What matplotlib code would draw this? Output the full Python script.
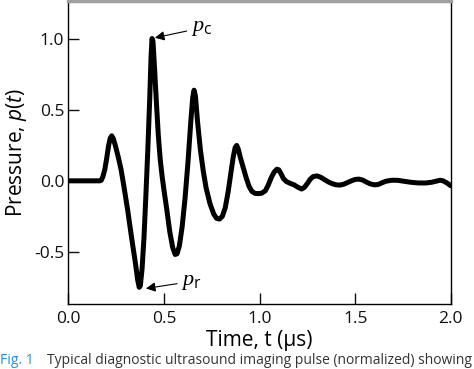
import numpy as np
import matplotlib
matplotlib.use("Agg")
import matplotlib.pyplot as plt

# pulse (time in us, normalised pressure)
t = [0.0, 0.10, 0.165, 0.172, 0.18, 0.19, 0.20, 0.21, 0.218, 0.226, 0.234,
     0.245, 0.26, 0.275, 0.29, 0.31, 0.33, 0.35, 0.362, 0.37, 0.376, 0.385,
     0.395, 0.405, 0.415, 0.425, 0.432, 0.437, 0.442, 0.45, 0.46, 0.47, 0.48,
     0.49, 0.50, 0.515, 0.53, 0.545, 0.558, 0.568, 0.58, 0.595, 0.61, 0.625,
     0.64, 0.65, 0.657, 0.664, 0.675, 0.69, 0.705, 0.72, 0.74, 0.76, 0.775,
     0.79, 0.805, 0.82, 0.835, 0.85, 0.862, 0.872, 0.88, 0.888, 0.90, 0.915,
     0.93, 0.945, 0.96, 0.975, 0.99, 1.01, 1.03, 1.045, 1.06, 1.075, 1.09,
     1.10, 1.112, 1.125, 1.14, 1.16, 1.18, 1.20, 1.22, 1.235, 1.25, 1.265,
     1.28, 1.30, 1.32, 1.34, 1.36, 1.38, 1.40, 1.42, 1.44, 1.46, 1.48, 1.50,
     1.52, 1.54, 1.56, 1.58, 1.60, 1.62, 1.64, 1.66, 1.69, 1.72, 1.75, 1.79,
     1.83, 1.87, 1.90, 1.925, 1.944, 1.96, 1.98, 2.0]
p = [0.0, 0.0, 0.0, 0.005, 0.03, 0.08, 0.16, 0.25, 0.30, 0.318, 0.30,
     0.25, 0.17, 0.08, -0.04, -0.21, -0.40, -0.58, -0.70, -0.752, -0.74, -0.62,
     -0.40, -0.10, 0.22, 0.58, 0.88, 1.005, 0.985, 0.80, 0.55, 0.32, 0.15,
     0.03, -0.07, -0.21, -0.36, -0.47, -0.52, -0.515, -0.46, -0.32, -0.12, 0.13,
     0.42, 0.59, 0.64, 0.60, 0.42, 0.22, 0.07, -0.05, -0.16, -0.235, -0.265,
     -0.27, -0.25, -0.19, -0.08, 0.06, 0.17, 0.235, 0.25, 0.225, 0.16, 0.09,
     0.02, -0.04, -0.075, -0.088, -0.09, -0.088, -0.07, -0.03, 0.02, 0.06, 0.082,
     0.078, 0.05, 0.015, -0.005, -0.018, -0.028, -0.045, -0.058, -0.045, -0.018, 0.012,
     0.03, 0.035, 0.025, 0.008, -0.008, -0.02, -0.028, -0.03, -0.024, -0.012, 0.0, 0.01,
     0.012, 0.005, -0.01, -0.022, -0.028, -0.026, -0.014, -0.003, 0.004, 0.004, -0.002, -0.01,
     -0.015, -0.015, -0.01, -0.002, 0.004, 0.0, -0.015, -0.035]

xticks = [0.0, 0.5, 1.0, 1.5, 2.0]
yticks = [-0.5, 0.0, 0.5, 1.0]

plt.rcParams['font.family'] = ['Open Sans', 'DejaVu Sans']
plt.rcParams['mathtext.fontset'] = 'custom'
plt.rcParams['mathtext.rm'] = 'Open Sans'
plt.rcParams['mathtext.it'] = 'Open Sans:italic'
plt.rcParams['mathtext.sf'] = 'Open Sans'
plt.rcParams['mathtext.tt'] = 'Liberation Serif:italic'

fig = plt.figure(figsize=(4.74, 3.69), dpi=100)
ax = fig.add_axes([0.1445, 0.176, 0.8065, 0.821])

ax.plot(t, p, color="black", linewidth=3.6, solid_joinstyle='round',
        solid_capstyle='round')

ax.set_xlim(0, 2.0)
ax.set_ylim(-0.87, 1.269)
ax.set_xticks(xticks)
ax.set_xticklabels([f"{v:.1f}" for v in xticks])
ax.set_yticks(yticks)
ax.set_yticklabels([f"{v:.1f}" for v in yticks])
ax.tick_params(direction='in', length=8, width=1, labelsize=12.5,
               colors='#111111', pad=5)
ax.tick_params(axis='y', pad=3)
for s in ['left', 'right', 'bottom']:
    ax.spines[s].set_linewidth(1.0)
ax.spines['top'].set_color('#a0a0a0')
ax.spines['top'].set_linewidth(2.5)

ax.set_xlabel("Time, t (\u00b5s)", fontsize=15, labelpad=2)
ax.set_ylabel("Pressure, $p(t)$", fontsize=15, labelpad=4)

# peak labels
ax.annotate("$\\mathtt{p}_\\mathsf{c}$", xy=(0.452, 1.01), xytext=(0.64, 1.08),
            fontsize=16, va='center', ha='left',
            arrowprops=dict(arrowstyle='-|>', color='black', lw=0.8,
                            mutation_scale=14, shrinkA=1, shrinkB=0))
ax.annotate("$\\mathtt{p}_\\mathsf{r}$", xy=(0.405, -0.76), xytext=(0.59, -0.71),
            fontsize=16, va='center', ha='left',
            arrowprops=dict(arrowstyle='-|>', color='black', lw=0.8,
                            mutation_scale=14, shrinkA=1, shrinkB=0))

# caption line at the bottom of the source page
fig.text(0.0, 0.004, "Fig. 1", color='#2a8fd6', fontsize=10, va='bottom')
fig.text(0.1, 0.004, "Typical diagnostic ultrasound imaging pulse (normalized) showing",
         color='#333333', fontsize=10, va='bottom')

fig.savefig("out.png", dpi=100)
